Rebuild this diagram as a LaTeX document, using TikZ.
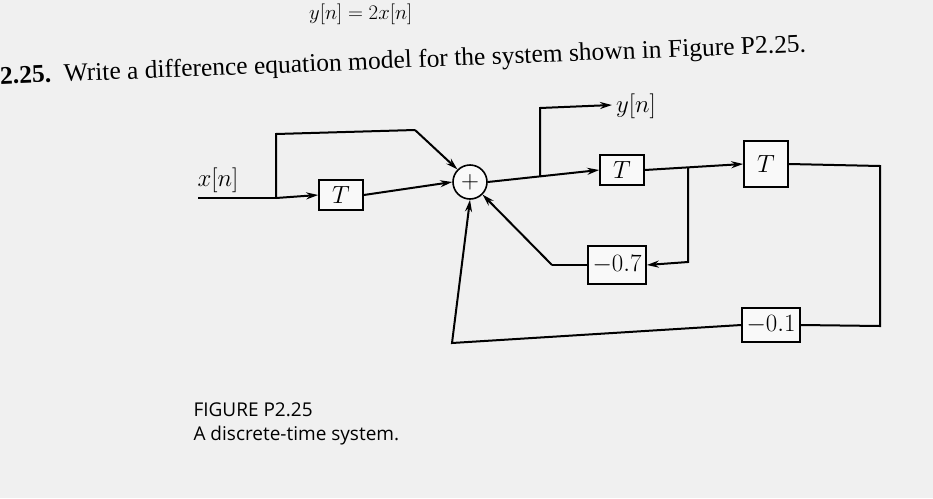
\documentclass[tikz,border=0pt]{standalone}
\usepackage{fontspec}
\setmainfont{Liberation Serif}
\newfontfamily\capfont{Open Sans}
\usetikzlibrary{arrows.meta}
\begin{document}
\begin{tikzpicture}[x=1pt,y=-1pt,
  blk/.style={draw,line width=1.6pt,fill=white!95!gray,minimum width=44pt,minimum height=30pt,font=\fontsize{24}{26}\selectfont},
  wire/.style={line width=2pt},
  arr/.style={line width=2pt,-{Stealth[length=12pt,width=7pt]}},
  captext/.style={font=\capfont\fontsize{19}{22}\selectfont,anchor=west}]
\fill[black!6] (0,0) rectangle (933,498);
\useasboundingbox (0,0) rectangle (933,498);
\node[font=\fontsize{22}{24}\selectfont,anchor=west,inner sep=1pt] (eq) at (308,14) {$y[n] = 2x[n]$};
\node[font=\fontsize{25.5}{28}\selectfont,anchor=west,rotate=2.3,inner sep=0pt] (title) at (0,78) {\textbf{2.25.}\enspace Write a difference equation model for the system shown in Figure P2.25.};
\node[blk] (t1) at (341,195) {$T$};
\node[draw,line width=1.6pt,circle,minimum size=34pt,inner sep=0pt,fill=white!95!gray,font=\fontsize{24}{26}\selectfont] (sum) at (470,182) {$+$};
\node[blk] (t2) at (622,170) {$T$};
\node[blk,minimum height=46pt] (t3) at (766,164) {$T$};
\node[blk,minimum width=58pt,minimum height=38pt,inner sep=1pt] (g1) at (617,265) {$-0.7$};
\node[blk,minimum width=58pt,minimum height=34pt,inner sep=1pt] (g2) at (771,325) {$-0.1$};
\node[font=\fontsize{23}{25}\selectfont] (xl) at (218,180) {$x[n]$};
\node[font=\fontsize{23}{25}\selectfont,anchor=west,inner sep=0pt] (yl) at (616,106) {$y[n]$};
\coordinate (xin) at (198,198);
\coordinate (b1) at (276,198);
\coordinate (b1u) at (276,134);
\coordinate (b1r) at (415,130);
\coordinate (b2) at (540,176);
\coordinate (b2u) at (540,108);
\coordinate (yend) at (612,105);
\coordinate (b3) at (688,167);
\coordinate (b3d) at (688,262);
\coordinate (c1) at (552,265);
\coordinate (r1) at (880,166);
\coordinate (r2) at (880,326);
\coordinate (l1) at (452,343);
\draw[wire] (xin) -- (b1);
\draw[arr] (b1) -- (t1.west);
\draw[wire] (b1) -- (b1u) -- (b1r);
\draw[arr] (b1r) -- (sum.north west);
\draw[arr] (t1.east) -- (sum.west);
\draw[arr] (sum.east) -- (t2.west);
\draw[arr] (b2) -- (b2u) -- (yend);
\draw[arr] (t2.east) -- (t3.west);
\draw[arr] (b3) -- (b3d) -- (g1.east);
\draw[wire] (g1.west) -- (c1);
\draw[arr] (c1) -- (sum.south east);
\draw[wire] (t3.east) -- (r1) -- (r2) -- (g2.east);
\draw[arr] (g2.west) -- (l1) -- (sum.south);
\node[captext] (cap1) at (190,410) {FIGURE P2.25};
\node[captext] (cap2) at (190,436) {A discrete-time system.};
\end{tikzpicture}
\end{document}
